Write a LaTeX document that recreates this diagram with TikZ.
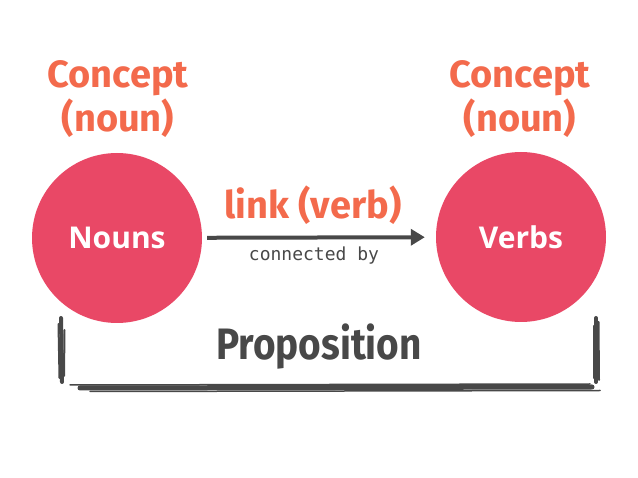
\documentclass[tikz,border=0pt]{standalone}
\usepackage{fontspec}
\setmainfont{Open Sans}
\newfontfamily\handfont{Fira Sans}
\newfontfamily\codefont{DejaVu Sans Mono}
\usetikzlibrary{arrows.meta}
\definecolor{circred}{RGB}{233,72,102}
\definecolor{conceptorange}{RGB}{243,106,76}
\definecolor{inkgrey}{RGB}{72,72,72}

\begin{document}
\begin{tikzpicture}[x=1pt, y=-1pt,
    concept/.style={circle, fill=circred, minimum size=170pt, inner sep=0pt,
        text=white, font=\fontsize{30}{30}\selectfont\bfseries},
    hand/.style={text=conceptorange, align=center,
        font=\handfont\fontsize{38}{44}\selectfont\bfseries},
    brush/.style={draw=inkgrey, line cap=round}]
    \useasboundingbox (0,0) rectangle (638,478);
    % the two concepts
    \node[concept] (nouns) at (117,238) {Nouns};
    \node[concept] (verbs) at (521,237) {Verbs};
    \node[hand] (leftlabel) at (118,99) {Concept\\(noun)};
    \node[hand] (rightlabel) at (520,99) {Concept\\(noun)};
    % the link
    \draw[inkgrey, line width=4pt, -{Triangle[length=14pt, width=16pt]},
        shorten <=5pt, shorten >=11pt] (nouns) -- (verbs);
    \node[hand] (link) at (313,205) {link (verb)};
    \node[text=inkgrey, font=\codefont\fontsize{18}{18}\selectfont] (by) at (314,256) {connected by};
    % the proposition bracket
    \node[text=inkgrey, xscale=0.88, font=\handfont\fontsize{44}{44}\selectfont\bfseries] (prop) at (319,347) {Proposition};
    \draw[brush, line width=4pt] (61,318) -- (62,382);
    \draw[brush, line width=2pt] (58.5,324) -- (59.5,378);
    \draw[brush, line width=2pt] (64.5,330) -- (64,376);
    \draw[brush, line width=4pt] (596,318) -- (596,382);
    \draw[brush, line width=2pt] (593.5,326) -- (593.5,378);
    \draw[brush, line width=2pt] (598.5,322) -- (599,380);
    \draw[brush, line width=5pt] (80,388) -- (592,387);
    \draw[brush, line width=1.5pt] (70,385) -- (590,384);
    \draw[brush, line width=1.5pt] (90,391.5) -- (600,390.5);
\end{tikzpicture}
\end{document}
